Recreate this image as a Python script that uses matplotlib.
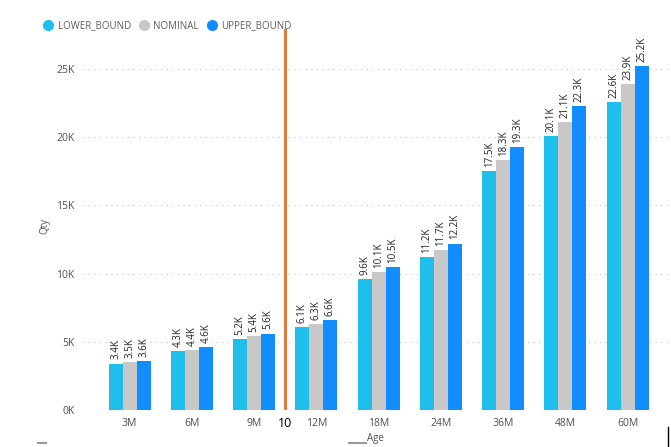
import matplotlib.pyplot as plt
import numpy as np
from matplotlib.lines import Line2D

plt.rcParams['font.family'] = ['Open Sans', 'DejaVu Sans']

ages = ['3M', '6M', '9M', '12M', '18M', '24M', '36M', '48M', '60M']
lower = [3.4, 4.3, 5.2, 6.1, 9.6, 11.2, 17.5, 20.1, 22.6]
nominal = [3.5, 4.4, 5.4, 6.3, 10.1, 11.7, 18.3, 21.1, 23.9]
upper = [3.6, 4.6, 5.6, 6.6, 10.5, 12.2, 19.3, 22.3, 25.2]
series_names = ['LOWER_BOUND', 'NOMINAL', 'UPPER_BOUND']
colors = ['#1FBEEB', '#C8C8C8', '#118DFF']
marker_pos = 2.5
marker_text = '10'

fig = plt.figure(figsize=(6.71, 4.47), dpi=100)
ax = fig.add_axes([0.1237, 0.0828, 0.872, 0.824])

x = np.arange(len(ages))
w = 0.225
for i, (vals, c) in enumerate(zip([lower, nominal, upper], colors)):
    xs = x + (i - 1) * w
    ys = np.array(vals) * 1000
    ax.bar(xs, ys, width=w, color=c, edgecolor='none', zorder=2)
    for xi, yi, v in zip(xs, ys, vals):
        ax.annotate('%.1fK' % v, (xi, yi), xytext=(0, 3), textcoords='offset points',
                    rotation=90, ha='center', va='bottom', fontsize=7, color='#252423')

ax.set_xlim(-0.75, 8.65)
ax.set_ylim(0, 27000)
ax.set_yticks([0, 5000, 10000, 15000, 20000, 25000])
ax.set_yticklabels(['0K', '5K', '10K', '15K', '20K', '25K'])
ax.set_xticks(x)
ax.set_xticklabels(ages)
ax.tick_params(length=0, labelsize=7.5, labelcolor='#505050', pad=6)
ax.grid(axis='y', linestyle=(0, (1, 4)), color='#C8C8C8', linewidth=0.8, zorder=0)
for s in ax.spines.values():
    s.set_visible(False)
ax.set_ylabel('Qty', fontsize=7, color='#505050', labelpad=4)
ax.set_xlabel('Age', fontsize=7, color='#505050', labelpad=3)

# reference line
ax.plot([marker_pos, marker_pos], [150, 27850], color='#E07B39', linewidth=2.2,
        clip_on=False, zorder=3)
ax.text(marker_pos, -500, marker_text, ha='center', va='top', fontsize=9, color='black',
        bbox=dict(facecolor='white', edgecolor='none', pad=2), zorder=4)

handles = [Line2D([], [], marker='o', linestyle='none', markersize=7, color=c) for c in colors]
fig.legend(handles, series_names, loc='upper left', bbox_to_anchor=(0.05, 0.965), ncol=3,
           frameon=False, fontsize=7, handletextpad=0.0, columnspacing=0.3,
           labelcolor='#605E5C', borderpad=0)

# small artefacts at the bottom
fig.add_artist(Line2D([0.057, 0.069], [0.01, 0.01], color='#999999', linewidth=1.5))
fig.add_artist(Line2D([0.52, 0.545], [0.01, 0.01], color='#999999', linewidth=1.5))
fig.add_artist(Line2D([0.996, 0.996], [0.0, 0.045], color='black', linewidth=1))

fig.savefig('out.png', dpi=100)
